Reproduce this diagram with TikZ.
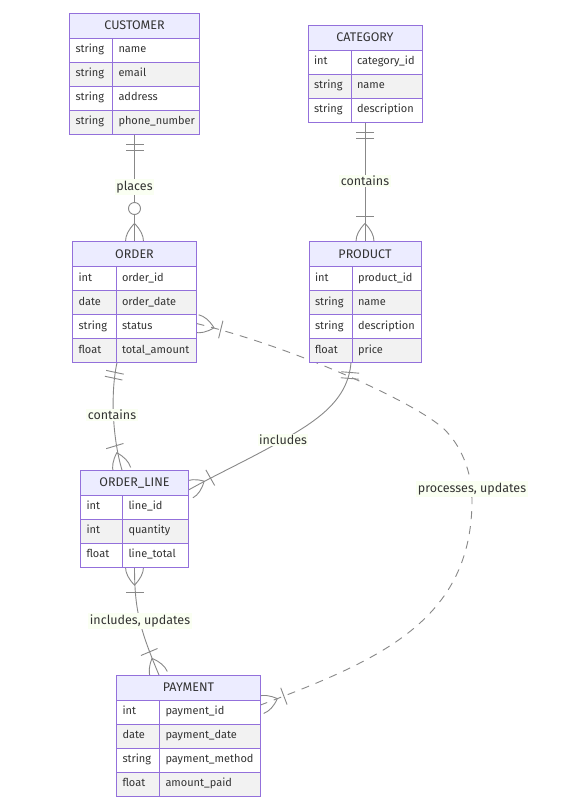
\documentclass[tikz,border=0pt]{standalone}
\usepackage{fontspec}
\setmainfont{Fira Sans}
\usetikzlibrary{calc,fit}
\pgfdeclarelayer{bg}
\pgfdeclarelayer{edges}
\pgfsetlayers{bg,edges,main}
\definecolor{bord}{HTML}{9370DB}
\definecolor{hdrfill}{HTML}{ECECFF}
\definecolor{evenfill}{HTML}{F2F2F2}
\definecolor{txt}{HTML}{333333}
\definecolor{lnk}{HTML}{888888}
\definecolor{lblfill}{RGB}{250,255,242}
\hyphenpenalty=10000
\exhyphenpenalty=10000
\tikzset{
  hdr/.style={draw=bord, fill=hdrfill, line width=0.9pt, minimum height=25pt, inner sep=0pt, outer sep=0pt,
    text=txt, font=\fontsize{12.5}{14}\selectfont},
  cell/.style={draw=bord, line width=0.9pt, minimum height=24pt, inner xsep=6pt, inner ysep=0pt, outer sep=0pt,
    align=left, text height=8pt, text depth=2.5pt, text=txt, font=\fontsize{11}{13}\selectfont},
  conn/.style={draw=lnk, line width=0.9pt},
  lbl/.style={fill=lblfill, inner sep=1.5pt, text=txt, font=\fontsize{12.5}{15}\selectfont},
}
\newcommand\entity[7]{%
  \pgfmathsetmacro\entwh{#5-#2}%
  \pgfmathsetmacro\enttwt{#4-#2-12}%
  \pgfmathsetmacro\enttwn{#5-#4-12}%
  \node[hdr, minimum width=\entwh pt, anchor=north west] (#1-h) at (#2,#3) {#6};
  \foreach \ty/\nm [count=\rowi] in {#7} {%
    \pgfmathsetmacro\ry{#3+25+24*(\rowi-1)}%
    \ifodd\rowi\relax \def\rf{white}\else\def\rf{evenfill}\fi
    \node[cell, fill=\rf, text width=\enttwt pt, anchor=north west] (#1-\rowi-t) at (#2,\ry) {\ty};
    \node[cell, fill=\rf, text width=\enttwn pt, anchor=north west] (#1-\rowi-n) at (#4,\ry) {\nm};
    \xdef\lastrow{\rowi}%
  }
  \node[fit=(#1-h)(#1-\lastrow-n), inner sep=0pt, outer sep=0pt] (#1) {};
}
\newcommand\mkbar[3]{\draw[conn] ($(#1)!#3!(#2)!9pt!90:(#2)$) -- ($(#1)!#3!(#2)!9pt!-90:(#2)$);}
\newcommand\mkcrow[2]{\draw[conn] ($(#1)!9pt!90:(#2)$) .. controls ($(#1)!10.82pt!56.31:(#2)$) and ($(#1)!13.42pt!26.57:(#2)$) .. ($(#1)!18pt!(#2)$) .. controls ($(#1)!13.42pt!-26.57:(#2)$) and ($(#1)!10.82pt!-56.31:(#2)$) .. ($(#1)!9pt!-90:(#2)$);}
\begin{document}
\begin{tikzpicture}[x=1pt,y=-1pt]
\begin{pgfonlayer}{bg}
\fill[white] (0,0) rectangle (565,812);
\end{pgfonlayer}
\useasboundingbox (0,0) rectangle (565,812);

\entity{customer}{69.5}{13}{112.5}{199.5}{CUSTOMER}{string/name,string/email,string/address,string/phone\_number}
\entity{category}{308}{25}{351}{422}{CATEGORY}{int/category\_id,string/name,string/description}
\entity{order}{72.5}{241.5}{116}{196.5}{ORDER}{int/order\_id,date/order\_date,string/status,float/total\_amount}
\entity{product}{309}{241.5}{352}{421}{PRODUCT}{int/product\_id,string/name,string/description,float/price}
\entity{orderline}{80.5}{470}{122.5}{188.5}{ORDER\_LINE}{int/line\_id,int/quantity,float/line\_total}
\entity{payment}{116.5}{675}{159.5}{260.5}{PAYMENT}{int/payment\_id,date/payment\_date,string/payment\_method,float/amount\_paid}

\node[lbl] (l1) at (134.5,187) {places};
\node[lbl] (l2) at (365,181) {contains};
\node[lbl] (l3) at (112,415) {contains};
\node[lbl] (l4) at (283,440) {includes};
\node[lbl] (l5) at (472,489) {processes, updates};
\node[lbl] (l6) at (140,621) {includes, updates};

\begin{pgfonlayer}{edges}
% CUSTOMER -- ORDER
\draw[conn] (customer.south) -- (order.north);
\mkbar{customer.south}{order.north}{10pt}
\mkbar{customer.south}{order.north}{16pt}
\mkcrow{order.north}{customer.south}
\draw[conn, fill=white] ($(order.north)!33pt!(customer.south)$) circle[radius=6pt];
% CATEGORY -- PRODUCT
\draw[conn] (category.south) -- (product.north);
\mkbar{category.south}{product.north}{10pt}
\mkbar{category.south}{product.north}{16pt}
\mkcrow{product.north}{category.south}
\mkbar{product.north}{category.south}{25pt}
% ORDER -- ORDER_LINE
\coordinate (r3a) at ($(order.south)+(-17.5,0)$);
\coordinate (r3b) at ($(orderline.north)+(-12.5,0)$);
\coordinate (r3p) at (110,395);
\coordinate (r3q) at (113,440);
\draw[conn] (r3a) .. controls (r3p) and (r3q) .. (r3b);
\mkbar{r3a}{r3p}{10pt}
\mkbar{r3a}{r3p}{16pt}
\mkcrow{r3b}{r3q}
\mkbar{r3b}{r3q}{25pt}
% PRODUCT -- ORDER_LINE
\coordinate (r4a) at ($(product.south)+(-14,0)$);
\coordinate (r4b) at ($(orderline.north east)+(0,20)$);
\coordinate (r4p) at (348,400);
\coordinate (r4q) at (215,475);
\draw[conn] (r4a) .. controls (r4p) and (318,420) .. (283,440) .. controls (250,459) and (r4q) .. (r4b);
\mkbar{r4a}{r4p}{10pt}
\mkbar{r4a}{r4p}{16pt}
\mkcrow{r4b}{r4q}
\mkbar{r4b}{r4q}{25pt}
% ORDER -- PAYMENT (dashed)
\coordinate (r5a) at ($(order.north east)+(0,82)$);
\coordinate (r5b) at ($(payment.north east)+(0,30)$);
\coordinate (r5p) at (300,349);
\coordinate (r5q) at (380,660);
\draw[conn, dash pattern=on 8pt off 7pt] (r5a) .. controls (r5p) and (420,405) .. (445,430) .. controls (460,445) and (472,470) .. (472,500) .. controls (472,620) and (r5q) .. (r5b);
\mkcrow{r5a}{r5p}
\mkbar{r5a}{r5p}{25pt}
\mkcrow{r5b}{r5q}
\mkbar{r5b}{r5q}{25pt}
% ORDER_LINE -- PAYMENT
\coordinate (r6b) at ($(payment.north west)+(42.5,0)$);
\coordinate (r6p) at ($(orderline.south)+(0,43)$);
\coordinate (r6q) at (140,630);
\draw[conn] (orderline.south) .. controls (r6p) and (r6q) .. (r6b);
\mkcrow{orderline.south}{r6p}
\mkbar{orderline.south}{r6p}{25pt}
\mkcrow{r6b}{r6q}
\mkbar{r6b}{r6q}{25pt}
\end{pgfonlayer}
\end{tikzpicture}
\end{document}
